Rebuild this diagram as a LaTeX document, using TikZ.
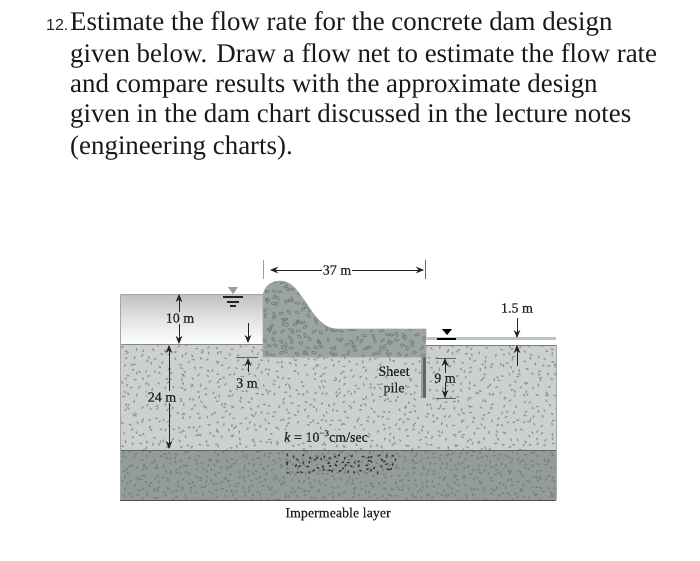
\documentclass[tikz,border=0pt]{standalone}
\usepackage{fontspec}
\setmainfont{Liberation Serif}
\newfontfamily\numfont{Liberation Sans}
\newfontfamily\labfont[FakeBold=0.35]{Liberation Serif}
\usetikzlibrary{arrows.meta}
\definecolor{soil}{HTML}{CBD1CD}
\definecolor{soilspeck}{HTML}{8F9993}
\definecolor{imper}{HTML}{939C97}
\definecolor{imperspeck}{HTML}{77817B}
\definecolor{damfill}{HTML}{9BA59F}
\definecolor{dameck}{HTML}{6F7973}
\definecolor{water}{HTML}{BDC2BF}
\definecolor{ink}{HTML}{222222}
\tikzset{
  body/.style={font=\fontsize{26.9}{27}\selectfont,anchor=base west,inner sep=0pt,text=black!90},
  lab/.style={font=\labfont\fontsize{14}{14}\selectfont,inner sep=1pt,text=ink},
  dim/.style={draw=ink,line width=1pt,-{Stealth[length=8pt,width=6.5pt]}},
  tick/.style={draw=ink!70,line width=1pt},
}
\begin{document}
\begin{tikzpicture}[x=1pt,y=-1pt]
\useasboundingbox (0,0) rectangle (700,560);
% text
\node[anchor=base west,inner sep=0pt,font=\numfont\fontsize{16}{16}\selectfont,text=black!85] (num) at (46,30) {12.};
\node[body] (l1) at (70,30) {Estimate the flow rate for the concrete dam design};
\node[body] (l2) at (70,62) {given below. Draw a flow net to estimate the flow rate};
\node[body] (l3) at (70,92) {and compare results with the approximate design};
\node[body] (l4) at (70,122) {given in the dam chart discussed in the lecture notes};
\node[body] (l5) at (70,154) {(engineering charts).};
% ground
\fill[soil] (120,344) rectangle (556,450);
\shade[top color=water,bottom color=white,middle color=water!45] (120,294) rectangle (263,344);
\fill[imper] (120,450) rectangle (556,500);
\begin{scope}
\clip (120,344) rectangle (556,450);
\pgfmathsetseed{12}
\foreach \i in {0,...,62}{\foreach \j in {0,...,15}{
  \pgfmathsetmacro\px{120+\i*7+7*rnd}
  \pgfmathsetmacro\py{344+\j*7+7*rnd}
  \pgfmathsetmacro\pa{360*rnd}
  \fill[soilspeck,shift={(\px,\py)},rotate=\pa] (0,0) ellipse (1.9 and .9);
}}
\end{scope}
\begin{scope}
\clip (120,450) rectangle (556,500);
\foreach \i in {0,...,72}{\foreach \j in {0,...,8}{
  \pgfmathsetmacro\px{120+\i*6+6*rnd}
  \pgfmathsetmacro\py{450+\j*5.6+5.6*rnd}
  \pgfmathsetmacro\pa{360*rnd}
  \fill[imperspeck,shift={(\px,\py)},rotate=\pa] (0,0) ellipse (1.9 and .9);
}}
\foreach \i in {0,...,16}{\foreach \j in {0,...,3}{
  \pgfmathsetmacro\px{286+\i*6.5+6*rnd}
  \pgfmathsetmacro\py{454+\j*5+5*rnd}
  \pgfmathsetmacro\pa{360*rnd}
  \fill[black!80,shift={(\px,\py)},rotate=\pa] (0,0) ellipse (1.8 and .9);
}}
\end{scope}
\draw[ink!55,line width=.8pt] (120,344) -- (263,344);
\draw[ink!70,line width=.8pt] (120,450) -- (556,450);
\draw[ink!80,line width=1pt] (120,500) -- (556,500);
\draw[ink!40,line width=.6pt] (120,294) -- (263,294);
\draw[ink!40,line width=.6pt] (120,294) -- (120,500);
\draw[ink!40,line width=.6pt] (556,345) -- (556,500);
% dam
\def\damshape{(263,357) -- (263,296) .. controls (264,286) and (272,281) .. (280,281) .. controls (292,281) and (298,292) .. (306,303) .. controls (314,315) and (322,328) .. (336,329) -- (426,329) -- (426,357) -- cycle}
\fill[damfill] \damshape;
\begin{scope}
\clip \damshape;
\foreach \i in {0,...,23}{\foreach \j in {0,...,10}{
  \pgfmathsetmacro\px{263+\i*7+7*rnd}
  \pgfmathsetmacro\py{280+\j*7+7*rnd}
  \pgfmathsetmacro\pa{360*rnd}
  \draw[dameck,line width=.6pt,shift={(\px,\py)},rotate=\pa] (0,0) ellipse (2.2 and 1.1);
}}
\end{scope}
\draw[ink!40,line width=.7pt] \damshape;
% sheet pile
\fill[ink!70] (423,357) rectangle (426,398);
\fill[ink!45] (421,357) rectangle (423,398);
% downstream water
\fill[white] (426,338) rectangle (556,345);
\fill[water] (426,337) rectangle (556,340);
\draw[ink!60,line width=.8pt] (426,345) -- (556,345);
% water symbols
\fill[ink!45] (228,287) -- (238,287) -- (233,294) -- cycle;
\draw[ink,line width=1.2pt] (223,297) -- (243,297);
\draw[ink,line width=1.2pt] (227,302) -- (239,302);
\draw[ink,line width=1.2pt] (230,306) -- (236,306);
\fill[black] (442,329) -- (452,329) -- (447,335) -- cycle;
\draw[black,line width=1.8pt] (437,339) -- (456,339);
% labels
\node[lab] (d37) at (337,270) {37 m};
\node[lab] (d10) at (180,318) {10 m};
\node[lab,fill=soil] (d24) at (162,397) {24 m};
\node[lab,fill=soil,inner sep=.5pt] (d3) at (247,383) {3 m};
\node[lab,fill=soil,inner sep=.5pt] (sheet) at (394,371) {Sheet};
\node[lab,fill=soil,inner sep=.5pt] (pile) at (394,389) {pile};
\node[lab,fill=soil,inner sep=.5pt] (d9) at (445,378) {9 m};
\node[lab] (d15) at (517,308) {1.5 m};
\node[lab,fill=soil,inner sep=.5pt] (kval) at (326,436) {\textit{k} = 10\raisebox{.4em}{\fontsize{9}{9}\selectfont −3}cm/sec};
\node[lab] (imp) at (338,514) {Impermeable layer};
% named ends
\coordinate (t37a) at (263,260); \coordinate (t37b) at (263,279);
\coordinate (t37c) at (425,260); \coordinate (t37d) at (425,279);
\coordinate (wtop) at (179,294); \coordinate (gl) at (179,344);
\coordinate (gl24) at (169,345); \coordinate (bot24) at (169,449);
\coordinate (d3a) at (248,323); \coordinate (d3b) at (248,343);
\coordinate (d3t1) at (236,357); \coordinate (d3t2) at (258,357);
\coordinate (d3c) at (248,372); \coordinate (d3d) at (248,358);
\coordinate (t9a) at (436,358); \coordinate (t9b) at (456,358);
\coordinate (t9c) at (436,398); \coordinate (t9d) at (456,398);
\coordinate (a15a) at (517,318); \coordinate (a15b) at (517,338);
\coordinate (a15c) at (517,366); \coordinate (a15d) at (517,345);
% connectors
\draw[tick,draw=ink!45] (t37a) -- (t37b);
\draw[tick] (t37c) -- (t37d);
\draw[dim] (d37.west) -- (270,270);
\draw[dim] (d37.east) -- (424,270);
\draw[dim] (d10.north -| wtop) -- (wtop);
\draw[dim] (d10.south -| gl) -- (gl);
\draw[dim] (d24.north -| gl24) -- (gl24);
\draw[dim] (d24.south -| bot24) -- (bot24);
\draw[dim] (d3a) -- (d3b);
\draw[tick] (d3t1) -- (d3t2);
\draw[dim] (d3c) -- (d3d);
\draw[tick] (t9a) -- (t9b);
\draw[tick] (t9c) -- (t9d);
\draw[dim] (d9.north -| d9) -- (445,358);
\draw[dim] (d9.south -| d9) -- (445,398);
\draw[dim] (a15a) -- (a15b);
\draw[dim] (a15c) -- (a15d);
\end{tikzpicture}
\end{document}
